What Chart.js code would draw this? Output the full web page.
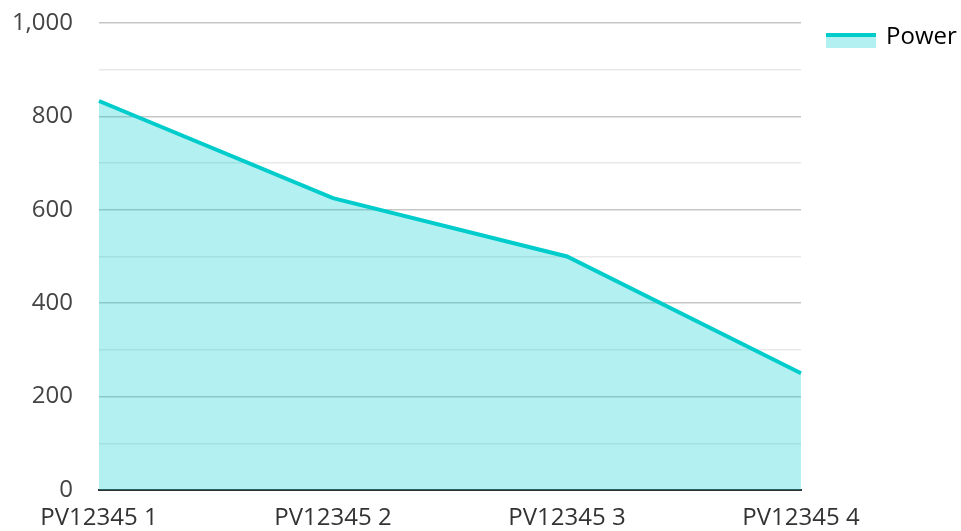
<!DOCTYPE html>
<html>
<head>
<meta charset="utf-8">
<script src="https://cdn.jsdelivr.net/npm/chart.js@4.4.0/dist/chart.umd.min.js"></script>
<style>
html,body{margin:0;padding:0;background:#fff;}
#wrap{width:961px;height:531px;position:relative;}
</style>
</head>
<body>
<div id="wrap"><canvas id="c" width="961" height="531"></canvas></div>
<script>
const categories = ['PV12345 1', 'PV12345 2', 'PV12345 3', 'PV12345 4'];
const powerValues = [833, 625, 500, 250];
const seriesName = 'Power';

const LINE = '#00CCCC';
const FILL = 'rgba(0,206,209,0.3)';
const FONT = "'Open Sans'";

const legendBoxPlugin = {
  id: 'legendBox',
  afterDraw(chart) {
    const lg = chart.legend;
    if (!lg || !lg.legendHitBoxes || !lg.legendHitBoxes.length) return;
    const hb = lg.legendHitBoxes[0];
    const ctx = chart.ctx;
    const bw = 50, bh = 15;
    const y = hb.top + hb.height / 2 - 4;
    ctx.save();
    ctx.fillStyle = FILL;
    ctx.fillRect(hb.left, y, bw, bh);
    ctx.fillStyle = LINE;
    ctx.fillRect(hb.left, y, bw, 4);
    ctx.restore();
  }
};

function start() {
  new Chart(document.getElementById('c'), {
    type: 'line',
    data: {
      labels: categories,
      datasets: [{
        label: seriesName,
        data: powerValues,
        borderColor: LINE,
        backgroundColor: FILL,
        borderWidth: 4,
        fill: 'origin',
        tension: 0,
        pointRadius: 0,
        pointHoverRadius: 0
      }]
    },
    options: {
      responsive: false,
      animation: false,
      devicePixelRatio: 1,
      layout: { padding: { left: 10, right: 0, top: 0, bottom: 0 } },
      plugins: {
        tooltip: { enabled: false },
        legend: {
          position: 'right',
          align: 'start',
          maxWidth: 160,
          labels: {
            boxWidth: 48,
            boxHeight: 15,
            padding: 25,
            color: '#333',
            font: { family: FONT, size: 24 },
            generateLabels(chart) {
              return [{
                text: seriesName,
                fillStyle: 'rgba(0,0,0,0)',
                strokeStyle: 'rgba(0,0,0,0)',
                lineWidth: 0,
                hidden: false,
                datasetIndex: 0
              }];
            }
          }
        }
      },
      scales: {
        x: {
          offset: false,
          afterFit(scale) {
            scale.height = 41;
          },
          grid: { display: false, drawTicks: false },
          border: { display: true, color: '#333', width: 2 },
          ticks: {
            color: '#333',
            font: { family: FONT, size: 24 },
            padding: 14,
            maxRotation: 0,
            autoSkip: false
          }
        },
        y: {
          min: 0,
          max: 1000,
          afterFit(scale) {
            scale.width = 89;
            scale.paddingTop = 23;
          },
          grid: {
            drawTicks: false,
            color: (ctx) => (ctx.tick && ctx.tick.value % 200 === 0) ? '#c6c6c6' : '#e9e9e9',
            lineWidth: 1.5
          },
          border: { display: false },
          ticks: {
            stepSize: 100,
            autoSkip: false,
            padding: 26,
            color: '#444',
            font: { family: FONT, size: 24 },
            callback: (v) => (v % 200 === 0) ? v.toLocaleString('en-US') : ''
          }
        }
      }
    },
    plugins: [legendBoxPlugin]
  });
}

if (document.fonts && document.fonts.load) {
  document.fonts.load("24px 'Open Sans'").then(start, start);
} else { start(); }
</script>
</body>
</html>
